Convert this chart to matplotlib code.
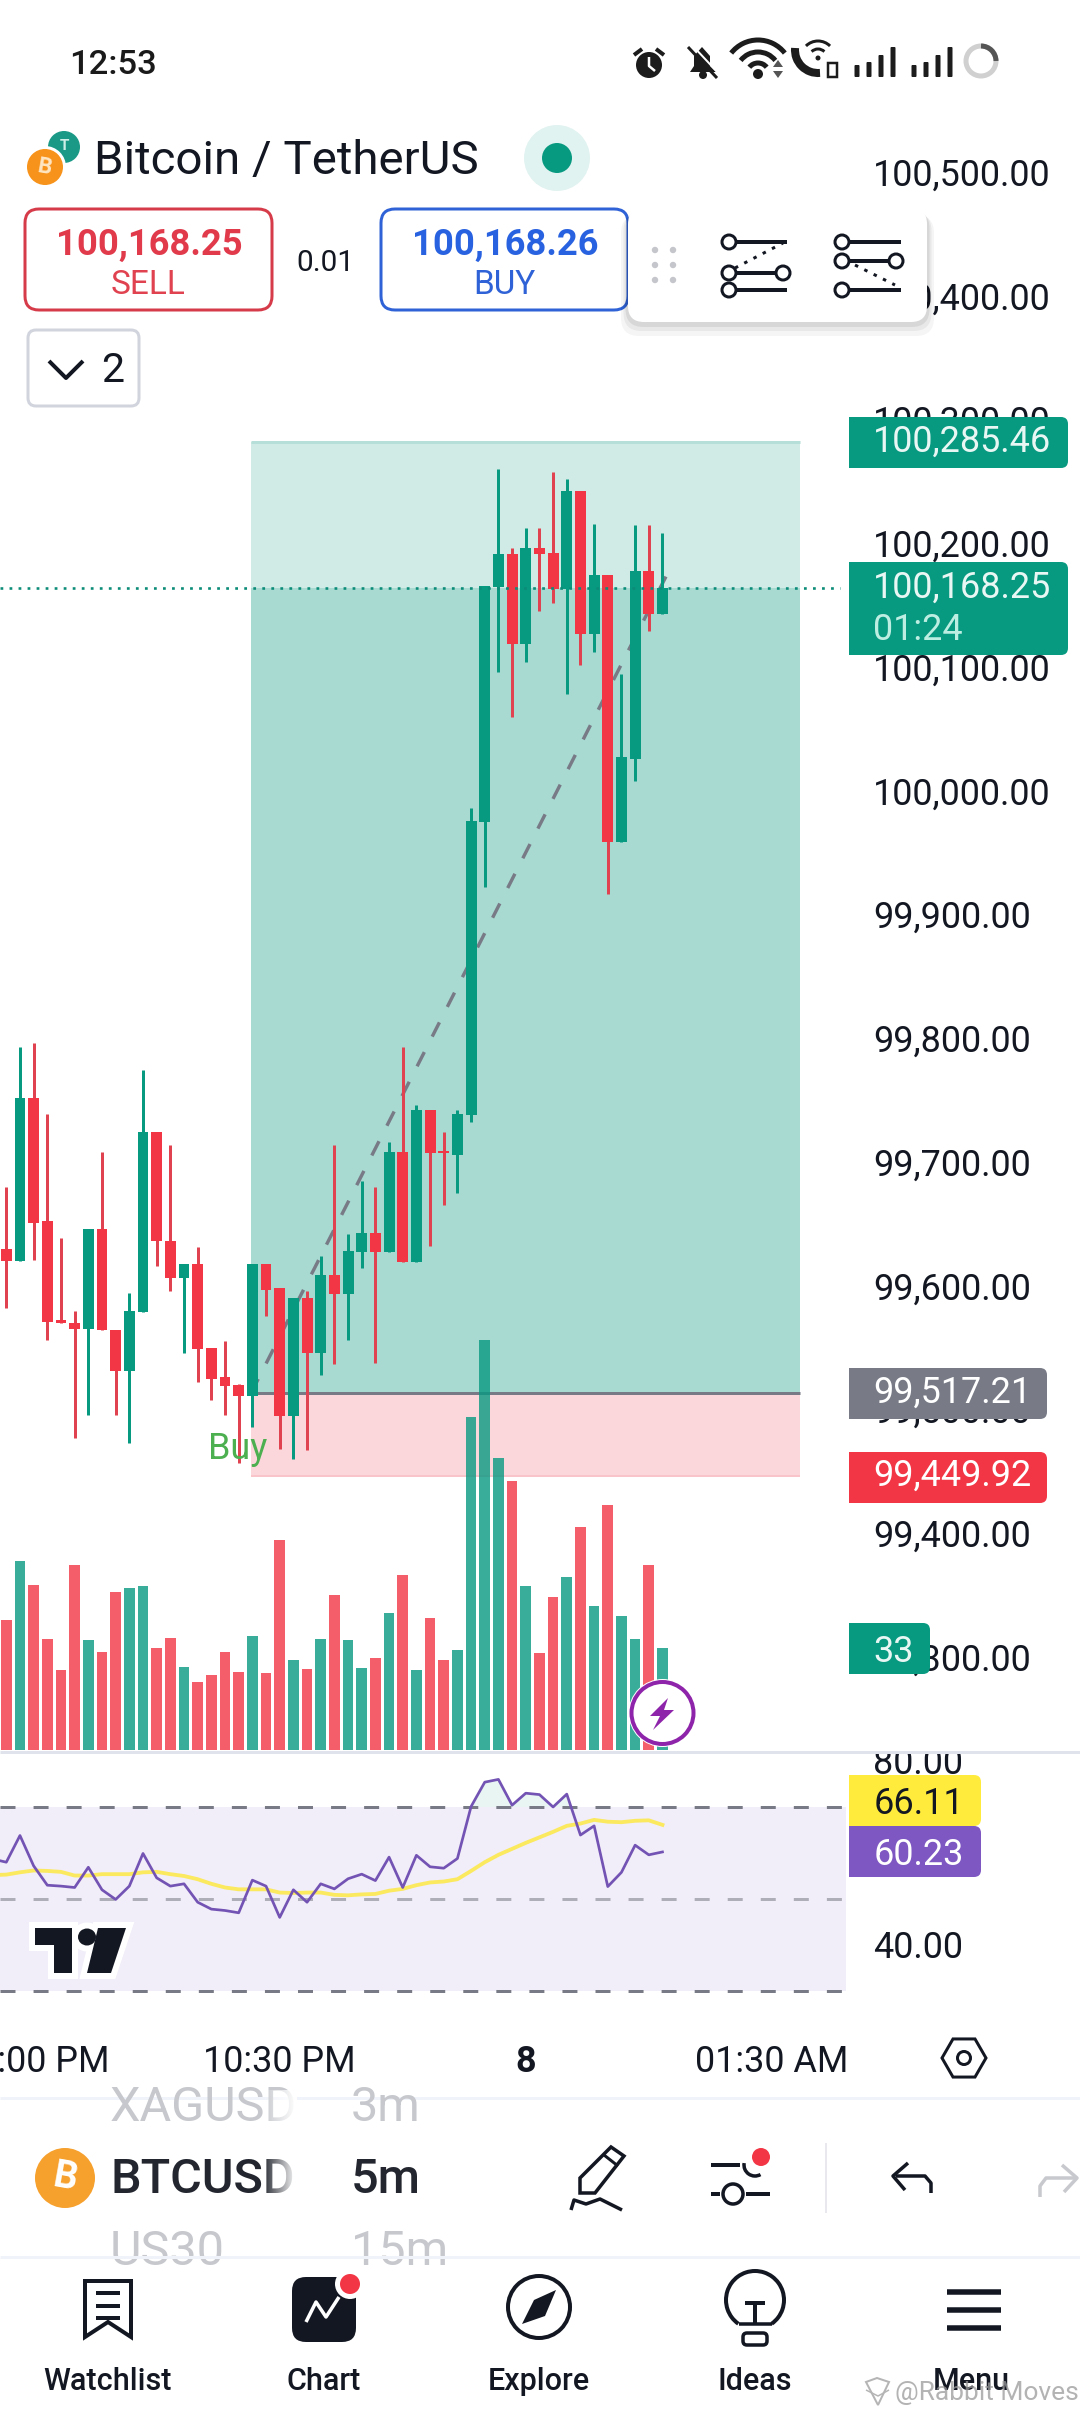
import numpy as np
import matplotlib
matplotlib.use("Agg")
import matplotlib.pyplot as plt
from matplotlib.patches import Rectangle, FancyBboxPatch, Circle, Polygon, RegularPolygon, Ellipse, Arc
from matplotlib.ticker import FuncFormatter
from matplotlib.transforms import ScaledTranslation

plt.rcParams['font.family'] = ['Roboto', 'DejaVu Sans']
plt.rcParams['lines.scale_dashes'] = False
plt.rcParams['ytick.alignment'] = 'center'

# ---------- data ----------
opens = [99634,99624,99756,99656,99576,99574,99569,99650,99568,99535,99583,99728,99640,99610,99622,99554,99530,99524,99515,99622,99602,99499,99594,99550,99613,99597,99631,99647,99631,99712,99623,99746,99713,99710,99742,99979,100169,100195,100123,100200,100196,100167,100246,100131,100178,99963,100030,100182,100147]
closes = [99624,99756,99655,99575,99574,99569,99650,99568,99535,99584,99728,99640,99610,99622,99553,99529,99523,99515,99622,99601,99499,99594,99550,99613,99597,99632,99647,99631,99712,99623,99746,99711,99711,99743,99980,100169.5,100195,100123,100200,100195,100167,100246,100131,100178,99963,100031,100182,100147,100168.25]
highs = [99684,99797,99800,99743,99643,99584,99650,99712,99568,99598,99778,99728,99718,99622,99635,99554,99559,99525,99622,99622,99602,99594,99600,99628,99718,99646,99689,99684,99720,99797,99750,99746,99728,99746,99990,100169.5,100264,100200,100216,100216,100262,100256,100246,100220,100178,100098,100219,100219,100212]
lows = [99586,99624,99625,99560,99574,99481,99500,99568,99500,99477,99583,99620,99600,99550,99526,99512,99500,99461,99490,99580,99472,99464,99471,99532,99541,99560,99618,99542,99631,99623,99623,99636,99669,99679,99736,99926,100100,100064,100108,100149,100156,100082,100106,100116,99921,99963,100012,100133,100147]
volumes = [42.1,61.2,53.4,35.9,25.9,59.9,35.6,31.7,51.1,52.4,53.1,33.0,36.2,26.9,22.0,24.3,31.7,25.2,36.9,24.9,68.0,29.1,26.2,35.9,50.2,35.6,26.5,29.8,44.3,56.6,25.9,42.7,29.1,32.4,107.8,132.7,94.5,87.1,53.1,31.4,49.5,56.0,72.2,46.6,79.3,43.4,35.9,59.9,33.0]
vol_colors = ['r','g','r','r','r','r','g','r','r','g','g','r','r','g','r','r','r','r','g','r','r','g','r','g','r','g','g','r','g','r','g','r','r','g','g','g','g','r','g','r','r','g','r','g','r','g','g','r','g']
rsi_index = list(range(-1, 49))
rsi_values = [58.7,58.0,63.8,57.2,53.0,52.8,52.5,56.9,52.0,49.9,52.8,59.9,54.6,52.8,53.3,49.3,47.8,47.5,47.0,54.1,52.8,46.0,52.0,49.3,53.3,52.2,54.4,55.4,54.0,59.1,52.5,59.5,57.0,56.7,58.8,70.1,75.4,76.0,70.4,73.0,72.7,70.0,72.8,63.9,65.9,52.7,55.8,61.7,59.6,60.23]
rsi_ma = [55.2,55.3,55.8,56.2,56.1,55.9,55.1,55.1,55.4,55.4,55.4,55.8,55.9,55.4,55.0,54.3,53.3,52.5,52.1,52.1,52.1,51.4,51.3,51.4,51.4,50.9,50.8,51.0,51.1,51.8,52.2,53.0,53.6,53.8,54.3,56.1,58.0,59.6,60.9,62.2,63.4,64.6,65.9,66.4,67.2,66.8,66.7,67.0,67.1,66.11]
price_ticks = [100500,100400,100300,100200,100100,100000,99900,99800,99700,99600,99500,99400,99300]
rsi_ticks = [80,60,40]
rsi_bands = [70,50,30]
time_tick_index = [2,20,38,56]
time_tick_labels = ['09:00 PM','10:30 PM','8','01:30 AM']
take_profit = 100285.46
last_price = 100168.25
entry_price = 99517.21
stop_loss = 99449.92
position_start = 17.9
position_end = 58.05
buy_index = 16.9
buy_price = 99472
trade_end_index = 48.4

# ---------- layout ----------
W, H = 1080, 2412
X0 = 6.3; DX = 13.67
CHART_R = 846
xlim = ((0 - X0) / DX, (CHART_R - X0) / DX)
dotted_end = (840 - X0) / DX
PX_PER_PRICE = 1.2375
price_top = 100500 + 177 / PX_PER_PRICE
VOL_BASE = 1750
price_bot = 100500 - (VOL_BASE - 177) / PX_PER_PRICE
RSI_T, RSI_B = 1753, 2022
rsi_top = 50 + (1899 - RSI_T) / 4.6
rsi_bot = 50 - (RSI_B - 1899) / 4.6
FS = 25.9

GREEN = '#089981'; RED = '#f23645'; GREY = '#787b86'; INK = '#131722'
def px(v): return v * 0.72
def rect(l, t, r, b): return [l / W, 1 - b / H, (r - l) / W, (b - t) / H]

fig = plt.figure(figsize=(10.8, 24.12), dpi=100, facecolor='white')

def bare(a):
    a.patch.set_alpha(0)
    for s in a.spines.values():
        s.set_visible(False)

def nudge_labels(labels, dy_px):
    off = ScaledTranslation(0, dy_px / 100, fig.dpi_scale_trans)
    for l in labels:
        l.set_transform(l.get_transform() + off)

# back axes: position boxes
ax_back = fig.add_axes(rect(0, 0, CHART_R, VOL_BASE), zorder=1)
bare(ax_back)
ax_back.set_xlim(xlim); ax_back.set_ylim(price_bot, price_top); ax_back.axis('off')
bw = position_end - position_start
ax_back.add_patch(Rectangle((position_start, last_price), bw, take_profit - last_price, fc='#d0ebe5', lw=0))
ax_back.add_patch(Rectangle((position_start, entry_price), bw, last_price - entry_price, fc='#a8dad2', lw=0))
ax_back.add_patch(Rectangle((position_start, stop_loss), bw, entry_price - stop_loss, fc='#fbd7db', lw=0))
ax_back.plot([position_start, position_end], [take_profit] * 2, color='#b5dfd8', lw=px(3), solid_capstyle='butt')
ax_back.plot([position_start, position_end], [stop_loss] * 2, color='#f9c4ca', lw=px(2), solid_capstyle='butt')
ax_back.plot([position_start, position_end], [entry_price] * 2, color=GREY, lw=px(3), solid_capstyle='butt')

# volume
ax_vol = fig.add_axes(rect(0, 0, CHART_R, VOL_BASE), zorder=2)
bare(ax_vol)
ax_vol.set_xlim(xlim); ax_vol.set_ylim(0, VOL_BASE / 3.09); ax_vol.axis('off')
xs = np.arange(len(opens))
ax_vol.bar(xs, volumes, width=0.78, color=[GREEN if c == 'g' else RED for c in vol_colors], alpha=0.8, lw=0)

# candles + price scale
ax = fig.add_axes(rect(0, 0, CHART_R, VOL_BASE), zorder=3)
bare(ax)
ax.set_xlim(xlim); ax.set_ylim(price_bot, price_top)
ax.xaxis.set_visible(False)
ax.yaxis.tick_right()
ax.set_yticks(price_ticks)
ax.yaxis.set_major_formatter(FuncFormatter(lambda v, p: f'{v:,.2f}'))
ax.tick_params(axis='y', length=0, pad=px(27), labelsize=FS, labelcolor=INK)

ax.plot([position_start, trade_end_index], [entry_price, last_price + 12], color=GREY, lw=px(3.4),
        linestyle=(0, (11.5, 12.5)), dash_capstyle='butt', zorder=1)
up = [c >= o for o, c in zip(opens, closes)]
ax.vlines(xs, lows, highs, colors=[GREEN if u else '#e0434f' for u in up], lw=px(3), zorder=2)
ax.bar(xs, np.abs(np.subtract(closes, opens)), bottom=np.minimum(opens, closes), width=0.8,
       color=[GREEN if u else RED for u in up], lw=0, zorder=3)
ax.plot([xlim[0], dotted_end], [last_price] * 2, color='#0b8c78', lw=px(2.6), linestyle=(0, (2.0, 4.5)),
        dash_capstyle='butt', zorder=4)
ax.text(buy_index, buy_price, 'Buy', color='#4caf50', fontsize=FS, ha='center', va='center', zorder=5)

# RSI
ar = fig.add_axes(rect(0, RSI_T, CHART_R, RSI_B), zorder=3)
bare(ar)
ar.set_xlim(xlim); ar.set_ylim(rsi_bot, rsi_top)
ar.axhspan(rsi_bands[2], rsi_bands[0], fc='#f1edf9', lw=0, zorder=0)
ar.fill_between(rsi_index, rsi_bands[0], rsi_values, where=np.array(rsi_values) > rsi_bands[0], interpolate=True,
                color=GREEN, alpha=0.09, lw=0, zorder=1)
for v, a in zip(rsi_bands, [1, .55, 1]):
    ar.plot(xlim, [v, v], color=GREY, alpha=a, lw=px(3), linestyle=(0, (10.8, 13)), dash_capstyle='butt', zorder=1)
ar.plot(rsi_index, rsi_ma, color='#fbe960', lw=px(3.8), zorder=2)
ar.plot(rsi_index, rsi_values, color='#7353b3', lw=px(2.7), zorder=3)
ar.yaxis.tick_right()
ar.set_yticks(rsi_ticks)
ar.yaxis.set_major_formatter(FuncFormatter(lambda v, p: f'{v:.2f}'))
ar.tick_params(axis='y', length=0, pad=px(27), labelsize=FS, labelcolor=INK)
ar.set_xticks(time_tick_index)
ar.set_xticklabels(time_tick_labels)
ar.tick_params(axis='x', length=0, pad=px(22), labelsize=FS, labelcolor=INK)
ar.get_xticklabels()[2].set_fontweight('bold')

nudge_labels([t.label2 for t in ax.yaxis.get_major_ticks()], 1.5)
nudge_labels([t.label2 for t in ar.yaxis.get_major_ticks()], -3)

# UI overlay, pixel coordinates
ui = fig.add_axes([0, 0, 1, 1], zorder=10)
ui.set_xlim(0, W); ui.set_ylim(H, 0); ui.axis('off'); ui.patch.set_alpha(0)

def rrect(l, t, r, b, rad, fc='white', ec='none', lw=0, alpha=None, z=2):
    p = FancyBboxPatch((l, t), r - l, b - t, boxstyle=f'round,pad=0,rounding_size={rad}', fc=fc, ec=ec, lw=px(lw), alpha=alpha, zorder=z)
    ui.add_patch(p)
    return p
def line(xs_, ys_, c=INK, lw=3, z=5, **k):
    ui.plot(xs_, ys_, color=c, lw=px(lw), zorder=z, solid_capstyle=k.pop('cap', 'butt'), **k)
def txt(x, y, s, size=FS, c=INK, ha='center', va='center', z=6, **k):
    return ui.text(x, y + 3, s, fontsize=size, color=c, ha=ha, va=va, zorder=z, **k)
def circ(x, y, r, fc='none', ec='none', lw=0, z=5):
    ui.add_patch(Circle((x, y), r, fc=fc, ec=ec, lw=px(lw), zorder=z))

# cover above RSI pane on the right, separators
ui.add_patch(Rectangle((852, 1730), 228, 22, fc='white', lw=0, zorder=1))
line([0, W], [1752, 1752], '#e0e3eb', 3, z=2)
line([0, W], [2098, 2098], '#f0f3fa', 3, z=2)
line([0, W], [2257, 2257], '#f0f3fa', 3, z=9)

# tags
def tag(t, b, r, fc):
    rrect(849, t, r, b, 7, fc=fc, z=3)
    ui.add_patch(Rectangle((849, t), 20, b - t, fc=fc, lw=0, zorder=3))
tag(417, 468, 1068, GREEN)
txt(873, 439, '100,285.46', c='#e8f7f3', ha='left')
tag(562, 655, 1068, GREEN)
txt(873, 585, '100,168.25', c='#e8f7f3', ha='left')
txt(873, 627, '01:24', c='#bdeee2', ha='left')
tag(1368, 1419, 1047, GREY)
txt(873, 1390, '99,517.21', c='white', ha='left')
tag(1452, 1503, 1047, RED)
txt(873, 1473, '99,449.92', c='white', ha='left')
tag(1623, 1674, 930, GREEN)
txt(873, 1649, '33', c='#e8f7f3', ha='left')
tag(1775, 1826, 981, '#ffeb3b')
txt(874, 1801, '66.11', c=INK, ha='left')
tag(1826, 1877, 981, '#7e57c2')
txt(874, 1852, '60.23', c='white', ha='left')

# status bar
txt(69, 62, '12:53', size=24.8, ha='left', fontweight='medium', c='#1a1a1a')
D = '#1c1c1c'
circ(649, 65, 13, fc=D)
line([649, 649, 655], [57, 66, 71], 'white', 2.5, z=6)
line([634, 642], [55, 49], D, 4); line([656, 664], [49, 55], D, 4)
ui.add_patch(Polygon([[690, 72], [694, 66], [694, 56], [702, 47], [710, 56], [710, 66], [716, 72]], fc=D, lw=0, zorder=5))
circ(703, 75, 4, fc=D)
line([688, 717], [47, 78], D, 3); line([692, 721], [45, 76], 'white', 2, z=6)
for r_, lw_ in [(34, 5), (22, 5), (11, 5)]:
    ui.add_patch(Arc((758, 74), 2 * r_, 2 * r_, theta1=218, theta2=322, color=D, lw=px(lw_), zorder=5))
circ(758, 74, 5, fc=D)
ui.add_patch(Polygon([[773, 67], [783, 67], [778, 60]], fc='#555', lw=0, zorder=5))
ui.add_patch(Polygon([[773, 71], [783, 71], [778, 78]], fc='#555', lw=0, zorder=5))
ui.add_patch(Arc((818, 50), 46, 46, theta1=85, theta2=185, color=D, lw=px(8), zorder=5))
for r_ in (17, 9):
    ui.add_patch(Arc((818, 58), 2 * r_, 2 * r_, theta1=225, theta2=315, color=D, lw=px(3), zorder=5))
circ(818, 58, 2.5, fc=D)
ui.add_patch(Rectangle((828, 63), 9, 14, fc='white', ec=D, lw=px(2.5), zorder=5))
for x0 in (857, 914):
    for dx_, top in zip((0, 12, 24, 36), (65, 62, 55, 47)):
        rrect(x0 + dx_ - 2.5, top, x0 + dx_ + 2.5, 77, 1, fc=D, z=5)
circ(981, 61, 15, ec='#d0d0d0', lw=5)
ui.add_patch(Arc((981, 61), 30, 30, theta1=270, theta2=360, color='#555', lw=px(5), zorder=6))

# header
circ(64, 147, 16, fc='#1a9a86')
txt(64, 143, 'T', size=11, c='#cdeee7', fontweight='bold')
circ(45, 167, 21, fc='white', z=5.5)
circ(45, 167, 18, fc='#f7931a', z=5.6)
txt(45, 164, 'B', size=16, c='#ffe6c4', fontweight='bold', rotation=-10, z=6)
txt(94, 158, 'Bitcoin / TetherUS', size=34.2, ha='left')
circ(557, 158, 33, fc='#e1f3f0', z=2)
circ(557, 158, 15, fc=GREEN)
rrect(25, 209, 272, 310, 14, ec='#d63b4a', lw=3)
txt(149, 242, '100,168.25', size=26.2, c='#e03a4b', fontweight='bold')
txt(148, 282, 'SELL', size=24, c='#e0424f')
txt(325, 260, '0.01', size=21.5)
rrect(381, 209, 628, 310, 14, ec='#2f62d6', lw=3)
txt(505, 242, '100,168.26', size=26.2, c='#2962e0', fontweight='bold')
txt(504, 282, 'BUY', size=24, c='#2f62d6')
rrect(28, 330, 139, 406, 8, ec='#d1d4dc', lw=3)
line([49, 66, 83], [361, 378, 361], INK, 4)
txt(113, 367, '2', size=29.5)

# floating panel
for g, a in zip((14, 9, 5), (0.04, 0.05, 0.07)):
    rrect(628 - g / 2, 208 + g / 2, 927 + g / 2, 322 + g, 18, fc='black', alpha=a, z=4)
rrect(628, 208, 927, 322, 16, fc='white', z=4.5)
for x_ in (655, 673):
    for y_ in (250, 265, 280):
        circ(x_, y_, 3.2, fc='#c4c6cc')
for y_ in (242, 273, 290):
    line([736, 787], [y_, y_], INK, 4)
    circ(729, y_, 7, fc='white', ec=INK, lw=3, z=6)
circ(783, 273, 7, fc='white', ec=INK, lw=3, z=6)
line([735, 783], [268, 243], INK, 3, linestyle=(0, (2.5, 5)))
for y_ in (242, 261, 290):
    line([849, 901], [y_, y_], INK, 4)
    circ(842, y_, 7, fc='white', ec=INK, lw=3, z=6)
circ(896, 261, 7, fc='white', ec=INK, lw=3, z=6)
line([855, 895], [265, 285], INK, 3, linestyle=(0, (2.5, 5)))

# lightning button
circ(662.5, 1713, 34, fc='white', z=3)
circ(662.5, 1713, 31, fc='white', ec='#8e24aa', lw=4, z=4)
ui.add_patch(Polygon([[668, 1698], [650, 1716], [660, 1716], [653, 1730], [674, 1710], [664, 1710]], fc='#8e24aa', lw=0, zorder=5))

# TradingView mark with a white halo
tv_t = [[35, 1928], [72, 1928], [72, 1973], [54, 1973], [54, 1945], [35, 1945]]
tv_s = [[98, 1928], [126, 1928], [111, 1973], [87, 1973]]
for z_, fc_, ec_, lw_ in [(4, 'white', 'white', 12), (5, INK, 'none', 0)]:
    ui.add_patch(Polygon(tv_t, fc=fc_, ec=ec_, lw=px(lw_), zorder=z_))
    ui.add_patch(Polygon(tv_s, fc=fc_, ec=ec_, lw=px(lw_), zorder=z_))
    ui.add_patch(Ellipse((87, 1937), 18, 17, fc=fc_, ec=ec_, lw=px(lw_), zorder=z_))

# settings hexagon
ui.add_patch(RegularPolygon((964, 2058), 6, radius=22, orientation=np.pi / 6, fc='none', ec=INK, lw=px(3), zorder=5))
circ(964, 2058, 6.5, ec=INK, lw=3)

# toolbar
clip = Rectangle((0, 2100), W, 155, transform=ui.transData)
for s, x_, y_ in [('XAGUSD', 110, 2105), ('3m', 351, 2105), ('US30', 110, 2249), ('15m', 351, 2249)]:
    t = txt(x_, y_, s, size=35, c='#c6c8cd', ha='left')
    t.set_clip_path(clip)
txt(110, 2177, 'BTCUSD', size=35, ha='left', fontweight='medium', c='#23262f')
txt(351, 2177, '5m', size=35, ha='left', fontweight='medium', c='#23262f')
grad = np.linspace(0, 1, 64).reshape(1, -1)
rgba = np.ones((1, 64, 4)); rgba[..., 3] = grad
ui.imshow(rgba, extent=(262, 297, 2230, 2090), aspect='auto', zorder=8)
ui.add_patch(Rectangle((297, 2100), 48, 155, fc='white', lw=0, zorder=8))
ui.set_xlim(0, W); ui.set_ylim(H, 0)
circ(65, 2178, 30, fc='#f6a02d')
txt(65, 2175, 'B', size=27, c='white', fontweight='bold', rotation=-10)
# pencil
ui.add_patch(Polygon([[580, 2193], [580, 2178], [611, 2147], [624, 2156], [595, 2193]], fc='none', ec=INK, lw=px(3.5), zorder=5))
line([604, 618], [2155, 2166], INK, 3)
line([571, 574, 586, 600, 622], [2210, 2200, 2204, 2199, 2210], INK, 3.5)
# sliders
line([711, 740], [2165, 2165], INK, 4)
line([746, 770], [2194, 2194], INK, 4); line([711, 720], [2194, 2194], INK, 4)
circ(733, 2194, 10, ec=INK, lw=3.5)
ui.add_patch(Arc((755, 2165), 22, 22, theta1=60, theta2=190, color=INK, lw=px(3.5), zorder=5))
circ(761, 2157, 9, fc=RED, z=6)
line([826, 826], [2143, 2213], '#e8e8ee', 2)
# undo / redo
line([931, 931, 925, 908, 896], [2193, 2183, 2176, 2176, 2176], INK, 3.5)
line([908, 893, 905], [2163, 2176, 2190], INK, 3.5)
line([1040, 1040, 1046, 1062, 1075], [2197, 2186, 2178, 2178, 2178], '#c8c9ce', 3.5)
line([1062, 1077, 1064], [2165, 2178, 2192], '#c8c9ce', 3.5)

# bottom navigation
for s, x_ in zip(['Watchlist', 'Chart', 'Explore', 'Ideas', 'Menu'], [108, 324, 539, 755, 971]):
    txt(x_, 2379, s, size=22, fontweight='medium')
ui.add_patch(Polygon([[85, 2281], [131, 2281], [131, 2337], [108, 2322], [85, 2337]], fc='none', ec=INK, lw=px(4), zorder=5))
for y_ in (2293, 2306, 2318):
    line([96, 120], [y_, y_], INK, 4)
rrect(292, 2277, 356, 2342, 14, fc=INK, z=5)
line([306, 316, 326, 339], [2322, 2302, 2317, 2297], 'white', 3.5, z=6)
circ(350, 2284, 15, fc='white', z=6)
circ(350, 2284, 10, fc=RED, z=7)
circ(539, 2307, 31, ec=INK, lw=4)
ui.add_patch(Polygon([[556, 2290], [545, 2316], [522, 2324], [534, 2300]], fc=INK, lw=0, zorder=5))
ui.add_patch(Arc((755, 2300), 58, 58, theta1=125, theta2=55, color=INK, lw=px(4), zorder=5))
line([739, 772], [2324, 2324], INK, 3.5)
line([745, 765], [2303, 2303], INK, 4); line([755, 755], [2303, 2324], INK, 4)
ui.add_patch(FancyBboxPatch((743, 2333), 24, 12, boxstyle='round,pad=0,rounding_size=4', fc='none', ec=INK, lw=px(3.5), zorder=5))
for y_ in (2292, 2310, 2328):
    line([947, 1001], [y_, y_], INK, 5.5)

# watermark
txt(895, 2390, '@Rabbit Moves', size=19, c='#9a9a9a', ha='left', alpha=0.75, z=9)
ui.add_patch(Polygon([[866, 2382], [877, 2378], [889, 2382], [878, 2405]], fc='none', ec='#b5b5b5', lw=px(2), zorder=9))
line([866, 878, 889], [2390, 2396, 2390], '#b5b5b5', 1.5, z=9)

fig.savefig('out.png', dpi=100)
